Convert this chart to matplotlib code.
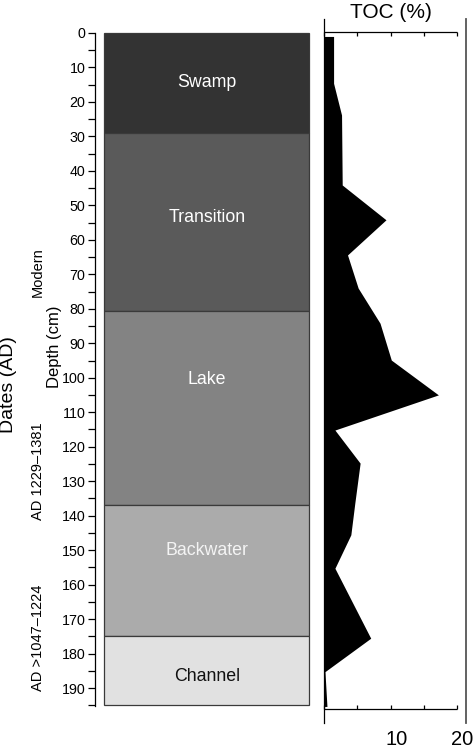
import matplotlib
matplotlib.use("Agg")
import matplotlib.pyplot as plt
import numpy as np
from matplotlib.transforms import blended_transform_factory, ScaledTranslation

plt.rcParams['font.family'] = ['Liberation Sans', 'DejaVu Sans']

# lithology units (depth in cm)
unit_names = ["Swamp", "Transition", "Lake", "Backwater", "Channel"]
unit_tops = [0, 29, 80.5, 137, 175]
unit_bottoms = [29, 80.5, 137, 175, 195]
unit_colors = ["#333333", "#5a5a5a", "#838383", "#ababab", "#e1e1e1"]
unit_text_colors = ["white", "white", "white", "#f4f4f4", "#111111"]
unit_label_depths = [14.5, 53.5, 100.5, 150, 186.5]

# TOC profile
toc_depth = [1, 14.6, 23.8, 44.1, 54.2, 64.4, 74, 84.2, 94.9, 105, 115.2,
             124.8, 136.4, 145.6, 155.3, 175.6, 185.3, 195.4]
toc_value = [1.4, 1.4, 2.6, 2.7, 9.3, 3.5, 5.1, 8.4, 10.1, 17.2, 1.6,
             5.4, 4.6, 4.0, 1.6, 7.0, 0.1, 0.4]

# age labels
date_labels = ["Modern", "AD 1229\u20131381", "AD >1047\u20131224"]
date_label_y = [272, 471, 638]  # pixel rows

W, H = 474, 749
fig = plt.figure(figsize=(W / 100, H / 100), dpi=100)

def px_box(x0, y0, x1, y1):
    return [x0 / W, 1 - y1 / H, (x1 - x0) / W, (y1 - y0) / H]

# --- lithology column ---
ax = fig.add_axes(px_box(95, 33, 310, 706))
ax.set_ylim(195.2, 0)
ax.set_xlim(0, 1)
heights = np.array(unit_bottoms) - np.array(unit_tops)
ax.bar(0.52, heights, bottom=unit_tops, width=0.955, color=unit_colors,
       edgecolor="#3a3a3a", linewidth=0.9, clip_on=False)
for name, d, c in zip(unit_names, unit_label_depths, unit_text_colors):
    ax.text(0.52, d, name, ha="center", va="center", color=c, fontsize=12.8)

for s in ["top", "right", "bottom"]:
    ax.spines[s].set_visible(False)
ax.spines["left"].set_linewidth(0.9)
ax.set_xticks([])
ax.set_yticks(np.arange(0, 191, 10))
ax.set_yticks(np.arange(5, 196, 10), minor=True)
ax.tick_params(axis="y", which="both", direction="out", length=5, width=0.9,
               labelsize=10.3, pad=2)

fig.text(54 / W, 1 - 347 / H, "Depth (cm)", rotation=90, ha="center",
         va="center", fontsize=12)
fig.text(9 / W, 1 - 385 / H, "Dates (AD)", rotation=90, ha="center",
         va="center", fontsize=14)
for t, y in zip(date_labels, date_label_y):
    fig.text(38 / W, 1 - y / H, t, rotation=90, ha="center", va="center",
             fontsize=10.5)

# --- TOC panel ---
ax2 = fig.add_axes(px_box(324.3, 19, 466, 723))
ax2.set_xlim(0, 21.36)
ax2.set_ylim(200.2, -4.06)
ax2.fill_betweenx(toc_depth, 0, toc_value, color="black", linewidth=0)
ax2.spines["top"].set_visible(False)
ax2.spines["bottom"].set_visible(False)
ax2.spines["left"].set_linewidth(0.9)
ax2.spines["right"].set_linewidth(1.3)
ax2.spines["right"].set_color("#555555")
ax2.set_xticks([])
ax2.set_yticks([])

# scale lines at top and bottom of the record
scale_top, scale_bot = -0.3, 196.1
ax2.hlines([scale_top, scale_bot], 0, 20, color="black", linewidth=0.9,
           clip_on=False)

ylo, yhi = ax2.get_ylim()
def frac(d):
    return (ylo - d) / (ylo - yhi)

ticks = [0, 5, 10, 15, 20]
# top scale ticks hanging down
top_ax = ax2.secondary_xaxis(frac(scale_top))
top_ax.set_xticks(ticks)
top_ax.set_xticklabels([])
top_ax.xaxis.set_ticks_position("bottom")
top_ax.tick_params(direction="out", length=3, width=0.9)
for s in top_ax.spines.values():
    s.set_visible(False)

# bottom scale ticks pointing up
bot_ax = ax2.secondary_xaxis(frac(scale_bot))
bot_ax.set_xticks(ticks)
bot_ax.set_xticklabels(["", "", "10", "", "20"])
bot_ax.xaxis.set_ticks_position("bottom")
bot_ax.tick_params(direction="in", length=3, width=0.9, labelsize=14.5, pad=15)
for s in bot_ax.spines.values():
    s.set_visible(False)
for lab in bot_ax.get_xticklabels():
    lab.set_transform(lab.get_transform() + ScaledTranslation(4 / 72, 0, fig.dpi_scale_trans))

tr = blended_transform_factory(ax2.transData, fig.transFigure)
ax2.text(10, 1 - 13 / H, "TOC (%)", transform=tr, ha="center", va="center",
         fontsize=15)

fig.savefig("out.png", dpi=100)
